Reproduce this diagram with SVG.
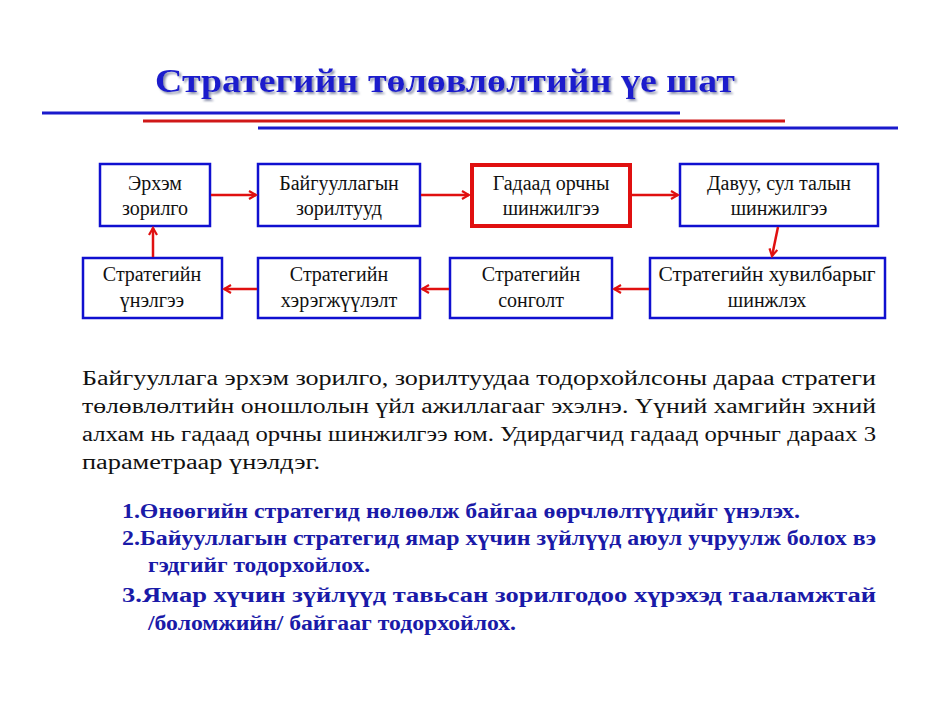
<svg xmlns="http://www.w3.org/2000/svg" width="942" height="728" viewBox="0 0 942 728">
<style>
.bx{fill:#fff;stroke:#1010d0;stroke-width:2.5}
.bt{font-family:"Liberation Serif",serif;font-size:20px;fill:#111;text-anchor:middle}
.p{font-family:"Liberation Serif",serif;font-size:20px;fill:#111}
.l{font-family:"Liberation Serif",serif;font-size:20px;font-weight:bold;fill:#1a1aa8}
.c{stroke:#e01010;stroke-width:2.5;fill:none;marker-end:url(#a)}
</style>
<defs><marker id="a" markerWidth="10" markerHeight="10" refX="8" refY="5" orient="auto" markerUnits="userSpaceOnUse"><path d="M1,1 L8,5 L1,9" fill="none" stroke="#e01010" stroke-width="2.2"/></marker>
<filter id="sh" x="-5%" y="-20%" width="110%" height="150%"><feDropShadow dx="2" dy="2" stdDeviation="0.8" flood-color="#8a90aa"/></filter></defs>
<rect width="942" height="728" fill="#fff"/>
<g id="title">
<text x="155" y="92" textLength="580" lengthAdjust="spacingAndGlyphs" font-family="Liberation Serif,serif" font-size="33" font-weight="bold" fill="#1a1acc" filter="url(#sh)">Стратегийн төлөвлөлтийн үе шат</text>
<line x1="42" y1="113" x2="680" y2="113" stroke="#1a1acc" stroke-width="3"/>
<line x1="143" y1="121" x2="785" y2="121" stroke="#d01818" stroke-width="3"/>
<line x1="258" y1="128" x2="898" y2="128" stroke="#1a1acc" stroke-width="3"/>
</g>
<g id="n1"><rect class="bx" x="100" y="164" width="110" height="62"/><text class="bt" x="155" y="190">Эрхэм</text><text class="bt" x="155" y="215">зорилго</text></g>
<g id="n2"><rect class="bx" x="258" y="164" width="162" height="62"/><text class="bt" x="339" y="190">Байгууллагын</text><text class="bt" x="339" y="215">зорилтууд</text></g>
<g id="n3"><rect x="472" y="165" width="158" height="61" fill="#fff" stroke="#e01010" stroke-width="4"/><text class="bt" x="551" y="190">Гадаад орчны</text><text class="bt" x="551" y="215">шинжилгээ</text></g>
<g id="n4"><rect class="bx" x="680" y="164" width="198" height="62"/><text class="bt" x="779" y="190">Давуу, сул талын</text><text class="bt" x="779" y="215">шинжилгээ</text></g>
<g id="n5"><rect class="bx" x="83" y="258" width="139" height="60"/><text class="bt" x="152" y="281">Стратегийн</text><text class="bt" x="152" y="307">үнэлгээ</text></g>
<g id="n6"><rect class="bx" x="258" y="258" width="162" height="60"/><text class="bt" x="339" y="281">Стратегийн</text><text class="bt" x="339" y="307">хэрэгжүүлэлт</text></g>
<g id="n7"><rect class="bx" x="450" y="258" width="162" height="60"/><text class="bt" x="531" y="281">Стратегийн</text><text class="bt" x="531" y="307">сонголт</text></g>
<g id="n8"><rect class="bx" x="650" y="258" width="235" height="60"/><text class="bt" x="767" y="281" textLength="217" lengthAdjust="spacingAndGlyphs">Стратегийн хувилбарыг</text><text class="bt" x="767" y="307">шинжлэх</text></g>
<g id="connectors">
<line class="c" x1="211" y1="195" x2="256" y2="195"/>
<line class="c" x1="421" y1="195" x2="469" y2="195"/>
<line class="c" x1="632" y1="195" x2="678" y2="195"/>
<line class="c" x1="778" y1="227" x2="772" y2="256"/>
<line class="c" x1="649" y1="289" x2="614" y2="289"/>
<line class="c" x1="449" y1="289" x2="422" y2="289"/>
<line class="c" x1="257" y1="289" x2="224" y2="289"/>
<line class="c" x1="153" y1="257" x2="153" y2="228"/>
</g>
<g id="paragraph">
<text class="p" x="82" y="385" textLength="794" lengthAdjust="spacingAndGlyphs">Байгууллага эрхэм зорилго, зорилтуудаа тодорхойлсоны дараа стратеги</text>
<text class="p" x="82" y="413" textLength="794" lengthAdjust="spacingAndGlyphs">төлөвлөлтийн оношлолын үйл ажиллагааг эхэлнэ. Үүний хамгийн эхний</text>
<text class="p" x="82" y="441" textLength="794" lengthAdjust="spacingAndGlyphs">алхам нь гадаад орчны шинжилгээ юм. Удирдагчид гадаад орчныг дараах 3</text>
<text class="p" x="82" y="469" textLength="238" lengthAdjust="spacingAndGlyphs">параметраар үнэлдэг.</text>
</g>
<g id="list">
<text class="l" x="122" y="518" textLength="678" lengthAdjust="spacingAndGlyphs">1.Өнөөгийн стратегид нөлөөлж байгаа өөрчлөлтүүдийг үнэлэх.</text>
<text class="l" x="122" y="545" textLength="754" lengthAdjust="spacingAndGlyphs">2.Байууллагын стратегид ямар хүчин зүйлүүд аюул учруулж болох вэ</text>
<text class="l" x="148" y="572" textLength="222" lengthAdjust="spacingAndGlyphs">гэдгийг тодорхойлох.</text>
<text class="l" x="122" y="602" textLength="754" lengthAdjust="spacingAndGlyphs">3.Ямар хүчин зүйлүүд тавьсан зорилгодоо хүрэхэд тааламжтай</text>
<text class="l" x="148" y="630" textLength="368" lengthAdjust="spacingAndGlyphs">/боломжийн/ байгааг тодорхойлох.</text>
</g>
</svg>
